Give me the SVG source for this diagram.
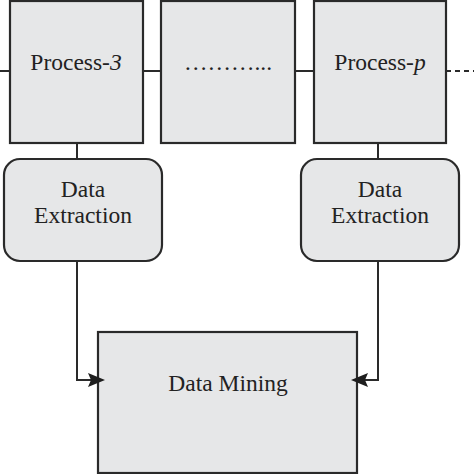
<svg xmlns="http://www.w3.org/2000/svg" width="474" height="474" viewBox="0 0 474 474">
<defs>
<style>
.box{fill:#e6e7e8;stroke:#2a2a2a;stroke-width:2.2}
.ln{fill:none;stroke:#2a2a2a;stroke-width:2}
.head{fill:#1e1e1e;stroke:none}
.t{font-family:"Liberation Serif","Times New Roman",serif;font-size:23.5px;fill:#222;text-anchor:middle}
</style>
</defs>
<g id="connectors">
<line class="ln" x1="0" y1="71" x2="10" y2="71"/>
<line class="ln" x1="143" y1="71" x2="161" y2="71"/>
<line class="ln" x1="295" y1="71" x2="314" y2="71"/>
<line class="ln" x1="446" y1="71" x2="474" y2="71" stroke-dasharray="5,4"/>
<line class="ln" x1="77" y1="143" x2="77" y2="159"/>
<line class="ln" x1="378" y1="143" x2="378" y2="159"/>
</g>
<g id="process3">
<rect class="box" x="10" y="1" width="133" height="142"/>
<text class="t" x="76" y="70">Process-<tspan font-style="italic">3</tspan></text>
</g>
<g id="processDots">
<rect class="box" x="161" y="1" width="134" height="142"/>
<text class="t" x="228" y="70">………...</text>
</g>
<g id="processP">
<rect class="box" x="314" y="1" width="132" height="142"/>
<text class="t" x="380" y="70">Process-<tspan font-style="italic">p</tspan></text>
</g>
<g id="extraction1">
<rect class="box" x="4" y="159" width="158" height="102" rx="16" ry="16"/>
<text class="t" x="83" y="197">Data</text>
<text class="t" x="83" y="223">Extraction</text>
</g>
<g id="extraction2">
<rect class="box" x="301" y="159" width="158" height="102" rx="16" ry="16"/>
<text class="t" x="380" y="197">Data</text>
<text class="t" x="380" y="223">Extraction</text>
</g>
<g id="dataMining">
<rect class="box" x="98" y="332" width="259" height="141"/>
<text class="t" x="228" y="391">Data Mining</text>
</g>
<g id="arrows">
<path class="ln" d="M77,261 V380 H92"/>
<polygon class="head" points="105,380 88,373 91,380 88,387"/>
<path class="ln" d="M378,261 V380 H364"/>
<polygon class="head" points="351,380 368,373 365,380 368,387"/>
</g>
</svg>
